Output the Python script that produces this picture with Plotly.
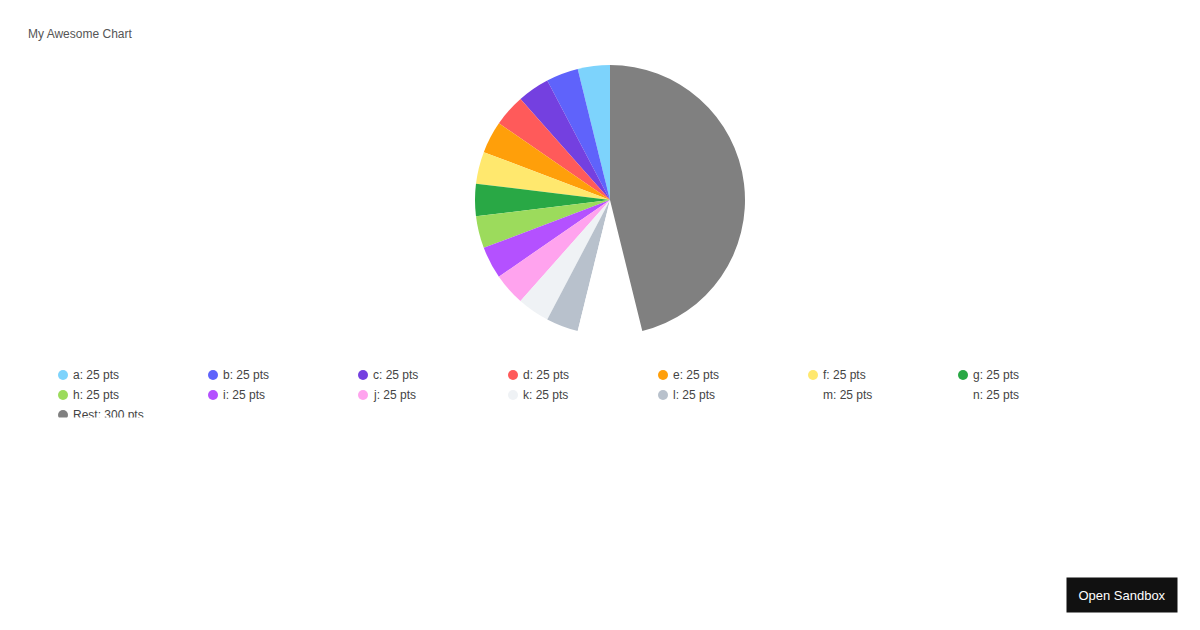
import plotly.graph_objects as go

# ---- data ----
labels = ["a", "b", "c", "d", "e", "f", "g", "h", "i", "j", "k", "l", "m", "n", "Rest"]
values = [25, 25, 25, 25, 25, 25, 25, 25, 25, 25, 25, 25, 25, 25, 300]
colors = ["#7dd3fc", "#5f63fb", "#7440e0", "#ff5a5a", "#ff9f0a", "#ffe86e", "#29a845",
          "#9cdb5c", "#b451ff", "#ffa3ee", "#eff2f5", "#b8c1cc", "#ffffff", "#ffffff", "#808080"]
title_text = "My Awesome Chart"
unit = "pts"

W, H = 1200, 630
OFF = 8  # default page body margin
cx, cy, R = 610 - OFF, 200 - OFF, 135

fig = go.Figure()
fig.add_trace(go.Pie(
    labels=labels, values=values, sort=False, direction="counterclockwise",
    rotation=-360 * values[0] / sum(values),
    marker=dict(colors=colors, line=dict(width=0)),
    textinfo="none", hoverinfo="label+value", showlegend=False,
    domain=dict(x=[(cx - R) / W, (cx + R) / W], y=[(H - cy - R) / H, (H - cy + R) / H]),
))

shapes = []
annotations = [dict(text=title_text, x=(26 - OFF) / W, y=1 - (34 - OFF) / H, xref="paper", yref="paper",
                    xanchor="left", yanchor="middle", showarrow=False,
                    font=dict(family="Liberation Sans, Arial", size=12, color="#555555"))]

# custom legend grid (7 columns)
ncol, col_w, x0, y0, row_h = 7, 150, 63 - OFF, 375 - OFF, 20
for i, (lab, val, col) in enumerate(zip(labels, values, colors)):
    r, c = divmod(i, ncol)
    mx = x0 + c * col_w
    my = y0 + r * row_h
    shapes.append(dict(type="circle", xref="paper", yref="paper",
                       xsizemode="pixel", ysizemode="pixel",
                       xanchor=mx / W, yanchor=1 - my / H,
                       x0=-5, x1=5, y0=-5, y1=5,
                       fillcolor=col, line=dict(width=0), layer="above"))
    annotations.append(dict(text=f"{lab}: {val} {unit}", x=(mx + 8) / W, y=1 - my / H,
                            xref="paper", yref="paper", xanchor="left", yanchor="middle",
                            showarrow=False,
                            font=dict(family="Liberation Sans, Arial", size=12, color="#444444")))

# clipping of the legend area (reference cuts off the last row)
annotations.append(dict(text=" ", x=(40 - OFF) / W, y=1 - (417 - OFF) / H, xref="paper", yref="paper",
                        xanchor="left", yanchor="top", showarrow=False, width=1100, height=30,
                        bgcolor="#ffffff", borderpad=0))

# "Open Sandbox" button
annotations.append(dict(text="Open Sandbox", x=(1121.5 - OFF) / W, y=1 - (595 - OFF) / H,
                        xref="paper", yref="paper",
                        xanchor="center", yanchor="middle", showarrow=False,
                        width=102, height=26, bgcolor="#111111", borderpad=4,
                        font=dict(family="Liberation Sans, Arial", size=13, color="#ffffff")))

fig.update_layout(
    width=W, height=H, margin=dict(l=0, r=0, t=0, b=0),
    paper_bgcolor="#ffffff", plot_bgcolor="#ffffff",
    shapes=shapes, annotations=annotations, showlegend=False,
)
fig.write_html("out.html")
